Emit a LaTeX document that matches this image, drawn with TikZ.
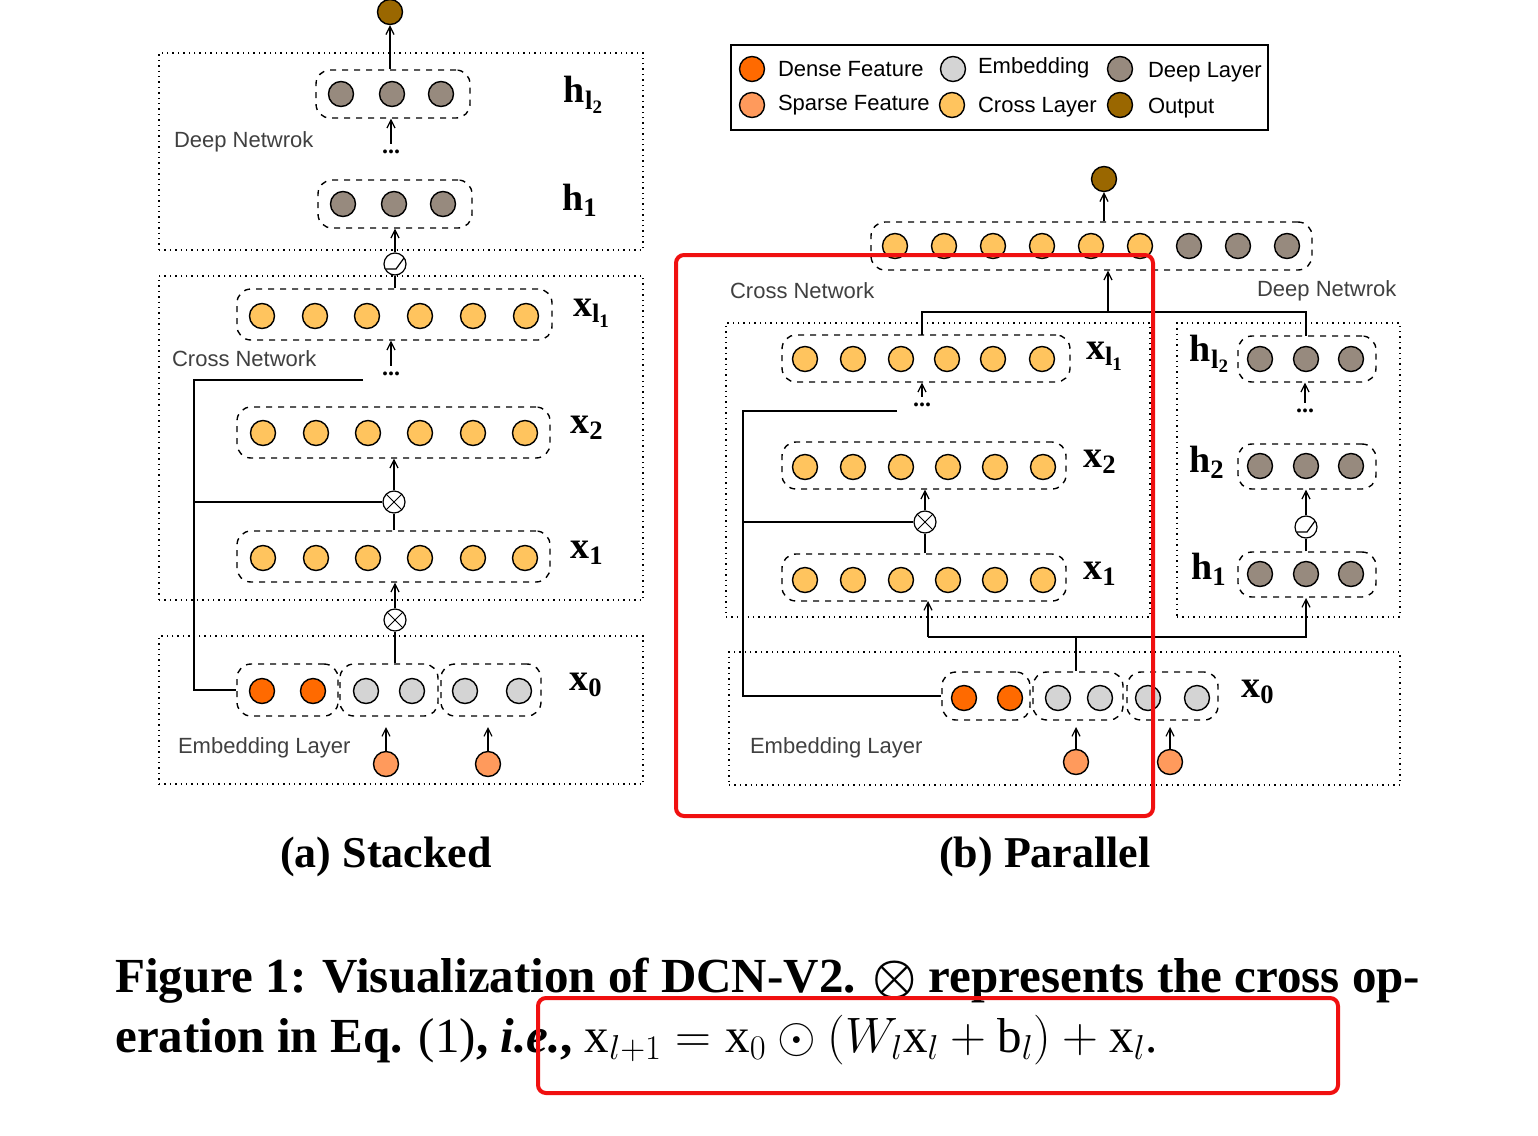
\documentclass[tikz,border=0pt]{standalone}
\usepackage{fontspec}
\usepackage{amsmath}
\setmainfont{Liberation Serif}
\newfontfamily\lsans{Liberation Sans}
\usetikzlibrary{fit,arrows.meta}
\definecolor{dense}{HTML}{FF6A00}
\definecolor{sparse}{HTML}{FF9A5C}
\definecolor{emb}{HTML}{D4D4D4}
\definecolor{crossc}{HTML}{FFC45E}
\definecolor{deepc}{HTML}{978A7E}
\definecolor{outc}{HTML}{9A6700}
\definecolor{redb}{HTML}{F01010}
\begin{document}
\begin{tikzpicture}[x=0.5pt,y=-0.5pt,
  nn/.style={circle,draw,line width=0.7pt,minimum size=12.5pt,inner sep=0},
  grp/.style={draw,dashed,rounded corners=7pt,line width=0.7pt,inner sep=0},
  box/.style={draw,dotted,line width=0.7pt,inner sep=0},
  arr/.style={-{Straight Barb[length=4pt,width=4pt]},line width=0.6pt},
  ln/.style={line width=0.6pt},
  otimes/.style={circle,draw,line width=0.6pt,minimum size=11pt,inner sep=0,fill=white,
    path picture={\draw[line width=0.5pt] (path picture bounding box.north west)--(path picture bounding box.south east)
      (path picture bounding box.north east)--(path picture bounding box.south west);}},
  relu/.style={circle,draw,line width=0.6pt,minimum size=11pt,inner sep=0,fill=white,
    path picture={\draw[line width=0.6pt] ([xshift=-4.5pt,yshift=-2.5pt]path picture bounding box.center)--([xshift=0.5pt,yshift=-2.5pt]path picture bounding box.center)--([xshift=4.5pt,yshift=3pt]path picture bounding box.center);}},
  sl/.style={font=\lsans\fontsize{11}{13}\selectfont,text=black!75,anchor=west},
  ml/.style={font=\fontsize{19}{22}\selectfont},
  dots/.style={font=\bfseries\fontsize{12}{12}\selectfont,inner sep=0}]
\useasboundingbox (0,0) rectangle (1538,1136);
% ================= (a) Stacked =================
\node[box,fit={(159,53)(643,250)}] (aDeep) {};
\node[box,fit={(159,276)(643,600)}] (aCross) {};
\node[box,fit={(159,636)(643,784)}] (aEmb) {};
\node[nn,fill=outc] (aOut) at (390,12) {};
\node[grp,fit={(316,70)(470,118)}] (aHl) {};
\foreach \x in {341,392,441} \node[nn,fill=deepc] at (\x,94) {};
\node[sl] (aDeepT) at (167,142) {Deep Netwrok};
\node[dots] (aD1) at (391,152) {...};
\node[grp,fit={(318,180)(472,228)}] (aH1) {};
\foreach \x in {343,394,443} \node[nn,fill=deepc] at (\x,204) {};
\node[ml] (aLhl) at (584,95) {$\mathbf{h}_{\mathbf{l}_{\mathbf{2}}}$};
\node[ml] (aLh1) at (580,200) {$\mathbf{h}_{\mathbf{1}}$};
\node[relu] (aRelu) at (395,264) {};
\node[grp,fit={(237,289)(552,340)}] (aXl) {};
\foreach \x in {262,315,367,420,473,526} \node[nn,fill=crossc] at (\x,316) {};
\node[ml] (aLxl) at (592,313) {$\mathbf{x}_{\mathbf{l}_{\mathbf{1}}}$};
\node[sl] (aCrossT) at (165,359) {Cross Network};
\node[dots] (aD2) at (391,374) {...};
\node[grp,fit={(237,407)(550,458)}] (aX2) {};
\foreach \x in {263,316,368,420,473,525} \node[nn,fill=crossc] at (\x,433) {};
\node[ml] (aLx2) at (587,428) {$\mathbf{x}_{\mathbf{2}}$};
\node[otimes] (aOt1) at (394,502) {};
\node[grp,fit={(237,531)(550,582)}] (aX1) {};
\foreach \x in {263,316,368,420,473,525} \node[nn,fill=crossc] at (\x,558) {};
\node[ml] (aLx1) at (587,553) {$\mathbf{x}_{\mathbf{1}}$};
\node[otimes] (aOt0) at (395,620) {};
\node[grp,fit={(237,664)(338,716)}] (aE0) {};
\node[grp,fit={(340,664)(438,716)}] (aE1) {};
\node[grp,fit={(441,664)(541,716)}] (aE2) {};
\node[nn,fill=dense] at (262,691) {};
\node[nn,fill=dense] at (313,691) {};
\foreach \x in {366,412,465,519} \node[nn,fill=emb] at (\x,691) {};
\node[ml] (aLx0) at (586,685) {$\mathbf{x}_{\mathbf{0}}$};
\node[sl] (aEmbT) at (171,748) {Embedding Layer};
\node[nn,fill=sparse] (aS1) at (386,764) {};
\node[nn,fill=sparse] (aS2) at (488,764) {};
\node[font=\bfseries\fontsize{22}{26}\selectfont] (aCap) at (386,857) {(a) Stacked};
% connectors (a)
\draw[arr] (aHl.north -| aOut) -- (aOut);
\draw[arr] ([yshift=3pt]aD1.north) -- (aD1.north |- aHl.south);
\draw[arr] (aRelu) -- (aRelu |- aH1.south);
\draw[ln] (aRelu |- aXl.north) -- (aRelu);
\draw[arr] ([yshift=3pt]aD2.north) -- (aD2.north |- aXl.south);
\coordinate (aL1) at (194,380);
\draw[ln] (363,380) -- (aL1) -- (aL1 |- aE0.west) -- (aE0.west);
\draw[ln] (aL1 |- aOt1) -- (aOt1);
\draw[arr] (aOt1) -- (aOt1 |- aX2.south);
\draw[ln] (aOt1 |- aX1.north) -- (aOt1);
\draw[arr] (aOt0) -- (aOt0 |- aX1.south);
\draw[ln] (aOt0 |- aE1.north) -- (aOt0);
\draw[arr] (aS1) -- (386,727);
\draw[arr] (aS2) -- (488,727);
% ================= (b) Parallel =================
\node[draw,line width=0.7pt,inner sep=0,fit={(731,45)(1268,130)}] (leg) {};
\node[nn,fill=dense] (lg1) at (752,69) {};
\node[sl,text=black] at (771,69) {Dense Feature};
\node[nn,fill=sparse] (lg2) at (752,105) {};
\node[sl,text=black] at (771,105) {Sparse Feature};
\node[nn,fill=emb] (lg3) at (953,69) {};
\node[sl,text=black] at (971,68) {Embedding};
\node[nn,fill=crossc] (lg4) at (952,105) {};
\node[sl,text=black] at (971,107) {Cross Layer};
\node[nn,fill=deepc] (lg5) at (1120,69) {};
\node[sl,text=black] at (1141,72) {Deep Layer};
\node[nn,fill=outc] (lg6) at (1120,105) {};
\node[sl,text=black] at (1141,108) {Output};
\node[nn,fill=outc] (bOut) at (1104,179) {};
\node[grp,fit={(871,222)(1312,270)}] (bCat) {};
\foreach \x in {895,944,993,1042,1091,1140} \node[nn,fill=crossc] at (\x,246) {};
\foreach \x in {1189,1238,1287} \node[nn,fill=deepc] at (\x,246) {};
\node[sl] (bCrossT) at (723,291) {Cross Network};
\node[sl] (bDeepT) at (1250,291) {Deep Netwrok};
\node[box,fit={(726,323)(1150,617)}] (bCross) {};
\node[box,fit={(1177,323)(1400,617)}] (bDeep) {};
\node[box,fit={(729,652)(1400,785)}] (bEmb) {};
\node[grp,fit={(782,335)(1070,382)}] (bXl) {};
\foreach \x in {805,853,901,947,993,1042} \node[nn,fill=crossc] at (\x,359) {};
\node[ml] (bLxl) at (1105,356) {$\mathbf{x}_{\mathbf{l}_{\mathbf{1}}}$};
\node[dots] (bD1) at (922,405) {...};
\node[grp,fit={(782,442)(1066,489)}] (bX2) {};
\foreach \x in {805,853,901,948,995,1043} \node[nn,fill=crossc] at (\x,467) {};
\node[ml] (bLx2) at (1100,462) {$\mathbf{x}_{\mathbf{2}}$};
\node[otimes] (bOt) at (925,522) {};
\node[grp,fit={(782,554)(1066,601)}] (bX1) {};
\foreach \x in {805,853,901,948,995,1043} \node[nn,fill=crossc] at (\x,580) {};
\node[ml] (bLx1) at (1100,574) {$\mathbf{x}_{\mathbf{1}}$};
\node[grp,fit={(1238,336)(1376,382)}] (bHl) {};
\foreach \x in {1260,1306,1351} \node[nn,fill=deepc] at (\x,359) {};
\node[ml] (bLhl) at (1210,354) {$\mathbf{h}_{\mathbf{l}_{\mathbf{2}}}$};
\node[dots] (bD2) at (1305,411) {...};
\node[grp,fit={(1238,444)(1376,489)}] (bH2) {};
\foreach \x in {1260,1306,1351} \node[nn,fill=deepc] at (\x,466) {};
\node[ml] (bLh2) at (1207,462) {$\mathbf{h}_{\mathbf{2}}$};
\node[relu] (bRelu) at (1306,527) {};
\node[grp,fit={(1238,552)(1376,597)}] (bH1) {};
\foreach \x in {1260,1306,1351} \node[nn,fill=deepc] at (\x,574) {};
\node[ml] (bLh1) at (1209,569) {$\mathbf{h}_{\mathbf{1}}$};
\node[grp,fit={(942,672)(1030,720)}] (bE0) {};
\node[grp,fit={(1033,672)(1123,720)}] (bE1) {};
\node[grp,fit={(1127,672)(1218,720)}] (bE2) {};
\node[nn,fill=dense] at (964,698) {};
\node[nn,fill=dense] at (1010,698) {};
\foreach \x in {1058,1100,1148,1197} \node[nn,fill=emb] at (\x,698) {};
\node[ml] (bLx0) at (1258,692) {$\mathbf{x}_{\mathbf{0}}$};
\node[sl] (bEmbT) at (743,748) {Embedding Layer};
\node[nn,fill=sparse] (bS1) at (1076,762) {};
\node[nn,fill=sparse] (bS2) at (1170,762) {};
\node[font=\bfseries\fontsize{22}{26}\selectfont] (bCap) at (1045,857) {(b) Parallel};
% connectors (b)
\draw[arr] (bCat.north -| bOut) -- (bOut);
\coordinate (bJ) at (1108,312);
\draw[ln] (922,335) -- (922,312) -- (1306,312) -- (1306,336);
\draw[arr] (bJ) -- (bJ |- bCat.south);
\draw[arr] ([yshift=3pt]bD1.north) -- (bD1.north |- bXl.south);
\coordinate (bL1) at (743,411);
\draw[ln] (897,411) -- (bL1) -- (bL1 |- bE0.west) -- (bE0.west);
\draw[ln] (bL1 |- bOt) -- (bOt);
\draw[arr] (bOt) -- (bOt |- bX2.south);
\draw[ln] (bOt |- bX1.north) -- (bOt);
\coordinate (bJ2) at (1076,637);
\draw[arr] (928,637) -- (928,601);
\draw[arr] (928,637) -- (1306,637) -- (1306,598);
\draw[ln] (bJ2) -- (bJ2 |- bE1.north);
\draw[arr] ([yshift=3pt]bD2.north) -- (bD2.north |- bHl.south);
\draw[arr] (bRelu) -- (bRelu |- bH2.south);
\draw[ln] (bRelu |- bH1.north) -- (bRelu);
\draw[arr] (bS1) -- (1076,727);
\draw[arr] (bS2) -- (1170,727);
\node[draw=redb,line width=2pt,rounded corners=4pt,inner sep=0,fit={(676,255)(1153,816)}] (red1) {};
% ================= caption =================
\node[anchor=base west,inner sep=0,font=\bfseries\fontsize{24.5}{29}\selectfont] (c1) at (115,992)
  {Figure 1: Visualization of DCN-V2. $\boldsymbol{\otimes}$ represents the cross op-};
\node[anchor=base west,inner sep=0,font=\bfseries\fontsize{24.5}{29}\selectfont] (c2) at (115,1052)
  {eration in Eq. \textmd{(1)}, \textit{i.e.}, \textmd{$\mathrm{x}_{l+1} = \mathrm{x}_0 \odot (W_l\mathrm{x}_l + \mathrm{b}_l) + \mathrm{x}_l$.}};
\node[draw=redb,line width=2pt,rounded corners=4pt,inner sep=0,fit={(538,998)(1338,1093)}] (red2) {};
\end{tikzpicture}
\end{document}
